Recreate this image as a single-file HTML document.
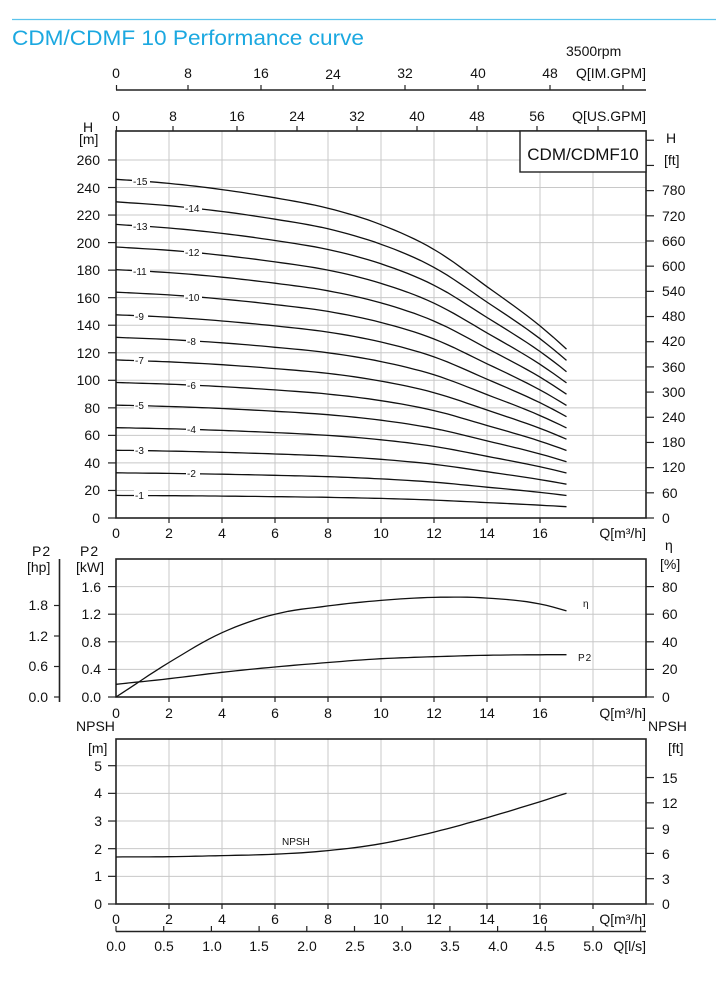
<!DOCTYPE html>
<html><head><meta charset="utf-8"><style>
html,body{margin:0;padding:0;background:#fff;}
svg{display:block;font-family:"Liberation Sans",Arial,sans-serif;}
.t{font-size:14px;fill:#111;}
.s{font-size:10px;fill:#111;}
.g{stroke:#c8c8c8;stroke-width:1;}
.a{stroke:#222;stroke-width:1.6;fill:none;}
.c{stroke:#111;stroke-width:1.3;fill:none;}
</style></head><body>
<svg id="sv" width="720" height="991" viewBox="0 0 720 991" xmlns="http://www.w3.org/2000/svg">
<line x1="12" y1="19.5" x2="716" y2="19.5" stroke="#5cc3ec" stroke-width="1.2"/>
<text x="12" y="45" font-size="21" fill="#1ba8e0" textLength="352" lengthAdjust="spacingAndGlyphs">CDM/CDMF 10 Performance curve</text>
<text class="t" x="566" y="56">3500rpm</text>
<line class="a" x1="116" y1="90" x2="646" y2="90"/>
<g stroke="#222" stroke-width="1.2">
<line x1="116.5" y1="85" x2="116.5" y2="90"/><line x1="188" y1="85" x2="188" y2="90"/><line x1="261" y1="85" x2="261" y2="90"/><line x1="333" y1="85" x2="333" y2="90"/><line x1="405" y1="85" x2="405" y2="90"/><line x1="478" y1="85" x2="478" y2="90"/><line x1="550" y1="85" x2="550" y2="90"/><line x1="623" y1="85" x2="623" y2="90"/>
</g>
<g class="t" text-anchor="middle">
<text x="116" y="78">0</text><text x="188" y="78">8</text><text x="261" y="78">16</text><text x="333" y="79">24</text><text x="405" y="78">32</text><text x="478" y="78">40</text><text x="550" y="78">48</text>
</g>
<text class="t" x="646" y="78" text-anchor="end">Q[IM.GPM]</text>
<g stroke="#222" stroke-width="1.2">
<line x1="116.5" y1="126" x2="116.5" y2="131"/><line x1="173" y1="126" x2="173" y2="131"/><line x1="237" y1="126" x2="237" y2="131"/><line x1="297" y1="126" x2="297" y2="131"/><line x1="357" y1="126" x2="357" y2="131"/><line x1="417" y1="126" x2="417" y2="131"/><line x1="477" y1="126" x2="477" y2="131"/><line x1="537" y1="126" x2="537" y2="131"/><line x1="598" y1="126" x2="598" y2="131"/>
</g>
<g class="t" text-anchor="middle">
<text x="116" y="121">0</text><text x="173" y="121">8</text><text x="237" y="121">16</text><text x="297" y="121">24</text><text x="357" y="121">32</text><text x="417" y="121">40</text><text x="477" y="121">48</text><text x="537" y="121">56</text>
</g>
<text class="t" x="646" y="121" text-anchor="end">Q[US.GPM]</text>

<g id="grids"></g>

<rect x="116" y="131" width="530" height="387" class="a"/>
<rect x="520" y="131" width="126" height="41" fill="#fff" stroke="#222" stroke-width="1.4"/>
<text x="583" y="160" font-size="17" fill="#111" text-anchor="middle">CDM/CDMF10</text>
<text class="t" x="83" y="132">H</text>
<text class="t" x="79" y="144">[m]</text>
<text class="t" x="666" y="143">H</text>
<text class="t" x="664" y="165">[ft]</text>
<g class="t" text-anchor="end">
<text x="100" y="165">260</text><text x="100" y="193">240</text><text x="100" y="220">220</text><text x="100" y="248">200</text><text x="100" y="275">180</text><text x="100" y="303">160</text><text x="100" y="330">140</text><text x="100" y="358">120</text><text x="100" y="385">100</text><text x="100" y="413">80</text><text x="100" y="440">60</text><text x="100" y="468">40</text><text x="100" y="495">20</text><text x="100" y="523">0</text>
</g>
<g class="t">
<text x="662" y="195">780</text><text x="662" y="221">720</text><text x="662" y="246">660</text><text x="662" y="271">600</text><text x="662" y="296">540</text><text x="662" y="321">480</text><text x="662" y="346">420</text><text x="662" y="372">360</text><text x="662" y="397">300</text><text x="662" y="422">240</text><text x="662" y="447">180</text><text x="662" y="472">120</text><text x="662" y="498">60</text><text x="662" y="523">0</text>
</g>
<g class="t" text-anchor="middle">
<text x="116" y="538">0</text><text x="169" y="538">2</text><text x="222" y="538">4</text><text x="275" y="538">6</text><text x="328" y="538">8</text><text x="381" y="538">10</text><text x="434" y="538">12</text><text x="487" y="538">14</text><text x="540" y="538">16</text>
</g>
<text class="t" x="646" y="538" text-anchor="end">Q[m³/h]</text>

<g id="hcurves"></g>
<g class="s" id="labs">
<rect x="132" y="175" width="18" height="11" fill="#fff"/><text x="133" y="185">-15</text>
<rect x="184" y="203" width="18" height="11" fill="#fff"/><text x="185" y="212">-14</text>
<rect x="132" y="221" width="18" height="11" fill="#fff"/><text x="133" y="230">-13</text>
<rect x="184" y="247" width="18" height="11" fill="#fff"/><text x="185" y="256">-12</text>
<rect x="132" y="265" width="18" height="11" fill="#fff"/><text x="133" y="275">-11</text>
<rect x="184" y="291" width="18" height="11" fill="#fff"/><text x="185" y="301">-10</text>
<rect x="134" y="311" width="14" height="11" fill="#fff"/><text x="135" y="320">-9</text>
<rect x="186" y="336" width="14" height="11" fill="#fff"/><text x="187" y="345">-8</text>
<rect x="134" y="355" width="14" height="11" fill="#fff"/><text x="135" y="364">-7</text>
<rect x="186" y="380" width="14" height="11" fill="#fff"/><text x="187" y="389">-6</text>
<rect x="134" y="400" width="14" height="11" fill="#fff"/><text x="135" y="409">-5</text>
<rect x="186" y="424" width="14" height="11" fill="#fff"/><text x="187" y="433">-4</text>
<rect x="134" y="445" width="14" height="11" fill="#fff"/><text x="135" y="454">-3</text>
<rect x="186" y="468" width="14" height="11" fill="#fff"/><text x="187" y="477">-2</text>
<rect x="134" y="490" width="14" height="11" fill="#fff"/><text x="135" y="499">-1</text>
</g>

<rect x="116" y="559" width="530" height="138" class="a"/>
<line class="a" x1="59.5" y1="559" x2="59.5" y2="702"/>
<g stroke="#222" stroke-width="1.2">
<line x1="54" y1="605.5" x2="59.5" y2="605.5"/><line x1="54" y1="636" x2="59.5" y2="636"/><line x1="54" y1="666.5" x2="59.5" y2="666.5"/><line x1="54" y1="697" x2="59.5" y2="697"/>
</g>
<text class="t" x="32" y="556" letter-spacing="1">P2</text>
<text class="t" x="27" y="572">[hp]</text>
<text class="t" x="80" y="556" letter-spacing="1">P2</text>
<text class="t" x="76" y="572">[kW]</text>
<g class="t" text-anchor="end">
<text x="48" y="610">1.8</text><text x="48" y="641">1.2</text><text x="48" y="671">0.6</text><text x="48" y="702">0.0</text>
<text x="101" y="592">1.6</text><text x="101" y="619">1.2</text><text x="101" y="647">0.8</text><text x="101" y="674">0.4</text><text x="101" y="702">0.0</text>
</g>
<text class="t" x="665" y="550">η</text>
<text class="t" x="660" y="569">[%]</text>
<g class="t">
<text x="662" y="592">80</text><text x="662" y="619">60</text><text x="662" y="647">40</text><text x="662" y="674">20</text><text x="662" y="702">0</text>
</g>
<g class="t" text-anchor="middle">
<text x="116" y="718">0</text><text x="169" y="718">2</text><text x="222" y="718">4</text><text x="275" y="718">6</text><text x="328" y="718">8</text><text x="381" y="718">10</text><text x="434" y="718">12</text><text x="487" y="718">14</text><text x="540" y="718">16</text>
</g>
<text class="t" x="646" y="718" text-anchor="end">Q[m³/h]</text>
<text class="s" x="583" y="607">η</text>
<text class="s" x="578" y="661" letter-spacing="1">P2</text>

<text class="t" x="76" y="731">NPSH</text>
<text class="t" x="648" y="731">NPSH</text>
<rect x="116" y="739" width="530" height="165" class="a"/>
<text class="t" x="88" y="753">[m]</text>
<text class="t" x="668" y="753">[ft]</text>
<g class="t" text-anchor="end">
<text x="102" y="771">5</text><text x="102" y="798">4</text><text x="102" y="826">3</text><text x="102" y="854">2</text><text x="102" y="881">1</text><text x="102" y="909">0</text>
</g>
<g class="t">
<text x="662" y="783">15</text><text x="662" y="808">12</text><text x="662" y="834">9</text><text x="662" y="859">6</text><text x="662" y="884">3</text><text x="662" y="909">0</text>
</g>
<g class="t" text-anchor="middle">
<text x="116" y="924">0</text><text x="169" y="924">2</text><text x="222" y="924">4</text><text x="275" y="924">6</text><text x="328" y="924">8</text><text x="381" y="924">10</text><text x="434" y="924">12</text><text x="487" y="924">14</text><text x="540" y="924">16</text>
</g>
<text class="t" x="646" y="924" text-anchor="end">Q[m³/h]</text>
<text class="s" x="282" y="845">NPSH</text>
<line class="a" x1="116" y1="931.5" x2="646" y2="931.5"/>
<g stroke="#222" stroke-width="1.2" id="lst"></g>
<g class="t" text-anchor="middle">
<text x="116" y="951">0.0</text><text x="164" y="951">0.5</text><text x="212" y="951">1.0</text><text x="259" y="951">1.5</text><text x="307" y="951">2.0</text><text x="355" y="951">2.5</text><text x="402" y="951">3.0</text><text x="450" y="951">3.5</text><text x="498" y="951">4.0</text><text x="545" y="951">4.5</text><text x="593" y="951">5.0</text>
</g>
<text class="t" x="646" y="951" text-anchor="end">Q[l/s]</text>
<g id="extra"></g>
</svg>
<script>
var NS="http://www.w3.org/2000/svg",sv=document.getElementById('sv');
function el(p,t,a){var e=document.createElementNS(NS,t);for(var k in a)e.setAttribute(k,a[k]);(typeof p==='string'?document.getElementById(p):p).appendChild(e);return e;}
var G='grids';
function X(q){return 116+26.5*q;}
[[131,518],[559,697],[739,904]].forEach(function(r){
 for(var q=2;q<=18;q+=2){el(G,'line',{x1:X(q),y1:r[0],x2:X(q),y2:r[1],'class':'g'});
  el(G,'line',{x1:X(q),y1:r[1],x2:X(q),y2:r[1]+5,stroke:'#222','stroke-width':1.2});}
});
for(var h=20;h<=260;h+=20){var y=518-1.377*h;el(G,'line',{x1:116,y1:y,x2:646,y2:y,'class':'g'});}
for(var h=0;h<=260;h+=20){var y=518-1.377*h;el(G,'line',{x1:108,y1:y,x2:116,y2:y,stroke:'#222','stroke-width':1.2});}
for(var f=0;f<=900;f+=60){var y=518-1.377*f*0.3048;el(G,'line',{x1:646,y1:y,x2:654,y2:y,stroke:'#222','stroke-width':1.2});}
for(var k=1;k<=4;k++){var y=697-27.6*k;el(G,'line',{x1:116,y1:y,x2:646,y2:y,'class':'g'});}
for(var k=0;k<=4;k++){var y=697-27.6*k;el(G,'line',{x1:108,y1:y,x2:116,y2:y,stroke:'#222','stroke-width':1.2});el(G,'line',{x1:646,y1:y,x2:654,y2:y,stroke:'#222','stroke-width':1.2});}
for(var k=1;k<=5;k++){var y=904-27.66*k;el(G,'line',{x1:116,y1:y,x2:646,y2:y,'class':'g'});}
for(var k=0;k<=5;k++){var y=904-27.66*k;el(G,'line',{x1:108,y1:y,x2:116,y2:y,stroke:'#222','stroke-width':1.2});}
for(var f=0;f<=15;f+=3){var y=904-27.66*f*0.3048;el(G,'line',{x1:646,y1:y,x2:654,y2:y,stroke:'#222','stroke-width':1.2});}
for(var l=0;l<=5.5;l+=0.5){var x=116+95.4*l;el('lst','line',{x1:x,y1:926,x2:x,y2:931.5});}
// uniform catmull-rom, knots at Q=0,2,...,18
function interp(vs,q){var i=Math.min(Math.floor(q/2),vs.length-2);var t=(q-2*i)/2;
 var p0=vs[Math.max(i-1,0)],p1=vs[i],p2=vs[i+1],p3=vs[Math.min(i+2,vs.length-1)];
 if(i==0)p0=2*p1-p2; if(i+2>vs.length-1)p3=2*p2-p1;
 return 0.5*((2*p1)+(-p0+p2)*t+(2*p0-5*p1+4*p2-p3)*t*t+(-p0+3*p1-3*p2+p3)*t*t*t);}
function curve(par,vs,fy){var d='';for(var q=0;q<=17.001;q+=0.25){d+=(q?'L':'M')+X(q).toFixed(1)+','+fy(interp(vs,q)).toFixed(1);}el(par,'path',{d:d,'class':'c'});}
var hh=[16.4,16.2,15.9,15.5,15.0,14.2,13.0,11.2,9.3,7.0];
var hc=document.getElementById('hcurves');
for(var n=1;n<=15;n++){(function(n){curve(hc,hh,function(v){return 518-1.377*v*n;});})(n);}
sv.insertBefore(hc,document.getElementById('labs'));
var ex=document.getElementById('extra');
curve(ex,[0,25,46.6,60,66,70,72.2,71.7,67.4,56.5],function(v){return 697-1.38*v;});
curve(ex,[0.184,0.265,0.358,0.435,0.50,0.555,0.584,0.605,0.612,0.614],function(v){return 697-69*v;});
curve(ex,[1.7,1.71,1.75,1.8,1.93,2.18,2.6,3.12,3.7,4.32],function(v){return 904-27.66*v;});
</script>
</body></html>
